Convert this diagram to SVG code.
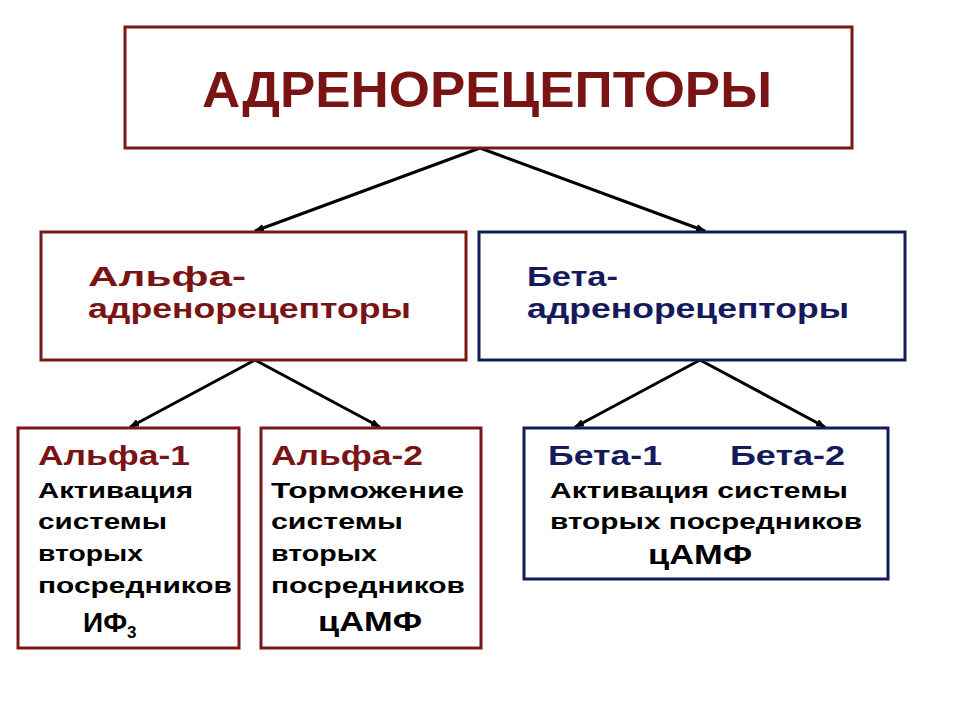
<svg xmlns="http://www.w3.org/2000/svg" width="960" height="720" viewBox="0 0 960 720">
<defs>
<marker id="ah" markerWidth="10" markerHeight="8" refX="9" refY="4" orient="auto" markerUnits="userSpaceOnUse"><path d="M0,0 L10,4 L0,8 Z" fill="#000"/></marker>
<style>
text{font-family:"Liberation Sans",Arial,sans-serif;font-weight:bold}
.r{fill:#fff;stroke:#7a1818;stroke-width:3}
.b{fill:#fff;stroke:#151a5c;stroke-width:3}
.red{fill:#7a1414}
.nav{fill:#151a5c}
.k{fill:#000;font-size:22px}
</style>
</defs>
<rect width="960" height="720" fill="#fff"/>
<g id="connectors" stroke="#000" stroke-width="3" marker-end="url(#ah)">
<line x1="480" y1="148" x2="255" y2="231"/>
<line x1="480" y1="148" x2="705" y2="231"/>
<line x1="255" y1="360" x2="130" y2="427"/>
<line x1="255" y1="360" x2="380" y2="427"/>
<line x1="700" y1="360" x2="575" y2="427"/>
<line x1="700" y1="360" x2="825" y2="427"/>
</g>
<g id="root"><rect class="r" x="125" y="27" width="727" height="121"/>
<text x="202" y="107" class="red" font-size="50" textLength="570" lengthAdjust="spacingAndGlyphs">АДРЕНОРЕЦЕПТОРЫ</text></g>
<g id="alpha"><rect class="r" x="41" y="232" width="425" height="128"/>
<text x="88" y="286" class="red" font-size="28" textLength="158" lengthAdjust="spacingAndGlyphs">Альфа-</text>
<text x="88" y="318" class="red" font-size="28" textLength="323" lengthAdjust="spacingAndGlyphs">адренорецепторы</text></g>
<g id="beta"><rect class="b" x="479" y="232" width="426" height="128"/>
<text x="527" y="286" class="nav" font-size="28" textLength="91" lengthAdjust="spacingAndGlyphs">Бета-</text>
<text x="527" y="318" class="nav" font-size="28" textLength="322" lengthAdjust="spacingAndGlyphs">адренорецепторы</text></g>
<g id="alpha1"><rect class="r" x="18" y="428" width="221" height="220"/>
<text x="38" y="465" class="red" font-size="28" textLength="152" lengthAdjust="spacingAndGlyphs">Альфа-1</text>
<text x="38" y="498" class="k" textLength="155" lengthAdjust="spacingAndGlyphs">Активация</text>
<text x="38" y="529" class="k" textLength="129" lengthAdjust="spacingAndGlyphs">системы</text>
<text x="38" y="561" class="k" textLength="105" lengthAdjust="spacingAndGlyphs">вторых</text>
<text x="38" y="593" class="k" textLength="194" lengthAdjust="spacingAndGlyphs">посредников</text>
<text x="83" y="632" font-size="28" fill="#000">ИФ<tspan font-size="17" dy="6">3</tspan></text></g>
<g id="alpha2"><rect class="r" x="261" y="428" width="220" height="220"/>
<text x="271" y="465" class="red" font-size="28" textLength="152" lengthAdjust="spacingAndGlyphs">Альфа-2</text>
<text x="271" y="498" class="k" textLength="193" lengthAdjust="spacingAndGlyphs">Торможение</text>
<text x="271" y="529" class="k" textLength="132" lengthAdjust="spacingAndGlyphs">системы</text>
<text x="271" y="561" class="k" textLength="106" lengthAdjust="spacingAndGlyphs">вторых</text>
<text x="271" y="593" class="k" textLength="194" lengthAdjust="spacingAndGlyphs">посредников</text>
<text x="318" y="631" font-size="28" fill="#000" textLength="104" lengthAdjust="spacingAndGlyphs">цАМФ</text></g>
<g id="beta12"><rect class="b" x="524" y="428" width="364" height="151"/>
<text x="548" y="465" class="nav" font-size="28" textLength="114" lengthAdjust="spacingAndGlyphs">Бета-1</text>
<text x="730" y="465" class="nav" font-size="28" textLength="115" lengthAdjust="spacingAndGlyphs">Бета-2</text>
<text x="550" y="498" class="k" textLength="298" lengthAdjust="spacingAndGlyphs">Активация системы</text>
<text x="550" y="529" class="k" textLength="312" lengthAdjust="spacingAndGlyphs">вторых посредников</text>
<text x="648" y="564" font-size="28" fill="#000" textLength="104" lengthAdjust="spacingAndGlyphs">цАМФ</text></g>
</svg>
